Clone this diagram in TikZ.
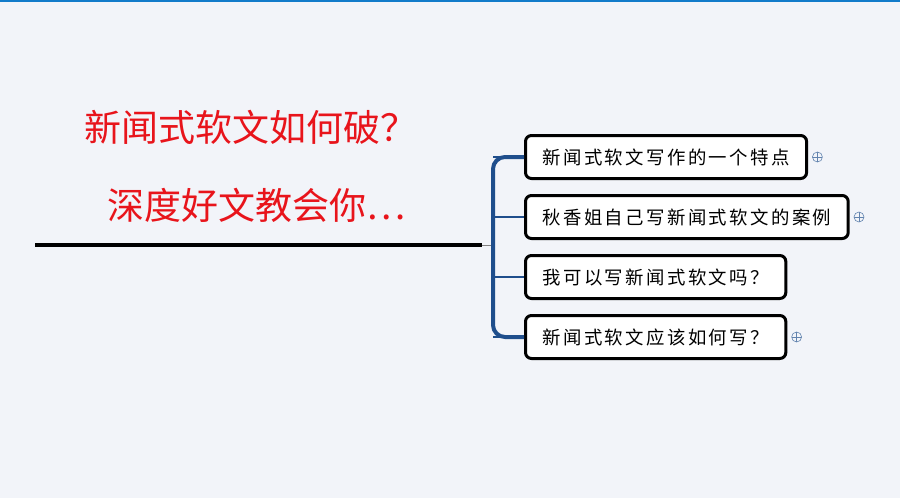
\documentclass[tikz,border=0pt]{standalone}
\usepackage{fontspec}
\newfontfamily\cjk{Noto Sans CJK SC}
\newfontfamily\cjkspaced[LetterSpace=13]{Noto Sans CJK SC}
\usetikzlibrary{positioning}
\definecolor{bgpaper}{HTML}{F2F4F9}
\definecolor{topicblue}{HTML}{1F4E8C}
\definecolor{titlered}{HTML}{E8141B}
\tikzset{
  subtopic/.style={draw=black, line width=1.5pt, rounded corners=3pt, fill=white,
    minimum height=21.5pt, anchor=west, inner xsep=8.5pt, font=\cjkspaced\fontsize{9.2}{10}\selectfont},
  expander/.style={draw=topicblue!70, line width=0.3pt, circle, minimum size=5pt, inner sep=0pt,
    path picture={\draw[topicblue!70,line width=0.3pt] (path picture bounding box.west) -- (path picture bounding box.east)
      (path picture bounding box.north) -- (path picture bounding box.south);}},
  title/.style={text=titlered, font=\cjk\fontsize{18.5}{20}\selectfont}
}
\begin{document}
\begin{tikzpicture}[x=0.5pt,y=-0.5pt]
  \fill[bgpaper] (0,0) rectangle (900,498);
  \useasboundingbox (0,0) rectangle (900,498);
  \fill[cyan!60!blue] (0,0) rectangle (900,2);
  % title
  \node[title] (line1) at (251,127) {新闻式软文如何破？};
  \node[title] (line2) at (257,205) {深度好文教会你…};
  % main branch
  \coordinate (root) at (35,245);
  \coordinate (hub) at (482,245);
  \coordinate (fork) at (493,245);
  \draw[line width=2pt] (root) -- (hub);
  \draw[gray, line width=0.4pt] (hub) -- (fork);
  % subtopics
  \node[subtopic] (s1) at (524,157) {新闻式软文写作的一个特点};
  \node[subtopic] (s2) at (524,217) {秋香姐自己写新闻式软文的案例};
  \node[subtopic] (s3) at (524,277) {我可以写新闻式软文吗？};
  \node[subtopic] (s4) at (524,337) {新闻式软文应该如何写？};
  \draw[topicblue, line width=2pt, rounded corners=6pt] (s1.west) -- (493,157) -- (493,337) -- (s4.west);
  \foreach \s in {s1,s2,s3,s4}
    \draw[topicblue, line width=0.6pt] (493,0 |- \s.west) -- (\s.west);
  % expanders
  \node[expander, right=2pt of s1] (e1) {};
  \node[expander, right=2pt of s2] (e2) {};
  \node[expander, right=2pt of s4] (e4) {};
\end{tikzpicture}
\end{document}
